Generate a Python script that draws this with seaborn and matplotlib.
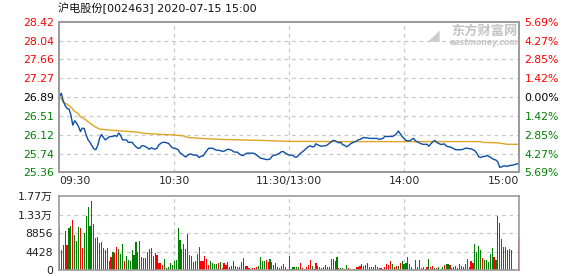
import matplotlib
matplotlib.use("Agg")
import matplotlib.pyplot as plt
import seaborn as sns

sns.set_theme(style="white")
plt.rcParams['font.family'] = ['DejaVu Sans', 'Noto Sans CJK SC']

# ---------------- data ----------------
title = "沪电股份[002463] 2020-07-15 15:00"
prev_close = 26.89
price_ticks = [25.36, 25.74, 26.12, 26.51, 26.89, 27.27, 27.66, 28.04, 28.42]
price_tick_labels = ["25.36", "25.74", "26.12", "26.51", "26.89", "27.27", "27.66", "28.04", "28.42"]
pct_tick_labels = ["5.69%", "4.27%", "2.85%", "1.42%", "0.00%", "1.42%", "2.85%", "4.27%", "5.69%"]
time_ticks = [0, 60, 120, 180, 240]
time_labels = ["09:30", "10:30", "11:30/13:00", "14:00", "15:00"]
vol_ticks = [0, 4428, 8856, 13284, 17712]
vol_tick_labels = ["0", "4428", "8856", "1.33万", "1.77万"]

price_values = [
    26.90, 26.97, 26.81, 26.72, 26.66, 26.65, 26.53, 26.32, 26.41, 26.36,
    26.29, 26.19, 26.26, 26.25, 26.12, 26.02, 25.97, 25.90, 25.84, 25.82,
    25.90, 26.05, 26.13, 26.07, 26.02, 26.05, 26.08, 26.09, 26.09, 26.11,
    26.09, 26.16, 26.11, 26.02, 26.02, 26.02, 25.97, 25.97, 25.97, 25.92,
    25.88, 25.85, 25.85, 25.90, 25.90, 25.88, 25.86, 25.83, 25.86, 25.84,
    25.83, 25.85, 25.92, 25.95, 25.97, 25.97, 25.96, 25.95, 25.90, 25.86,
    25.85, 25.84, 25.82, 25.76, 25.73, 25.70, 25.67, 25.71, 25.73, 25.73,
    25.71, 25.71, 25.70, 25.66, 25.69, 25.69, 25.75, 25.80, 25.85, 25.85,
    25.85, 25.83, 25.81, 25.81, 25.80, 25.79, 25.79, 25.81, 25.83, 25.82,
    25.81, 25.78, 25.77, 25.77, 25.73, 25.71, 25.70, 25.73, 25.75, 25.75,
    25.75, 25.75, 25.74, 25.71, 25.68, 25.65, 25.64, 25.63, 25.62, 25.62,
    25.63, 25.68, 25.71, 25.71, 25.73, 25.75, 25.78, 25.78, 25.75, 25.73,
    25.71, 25.71, 25.70, 25.67, 25.67, 25.71, 25.75, 25.78, 25.81, 25.85,
    25.88, 25.90, 25.88, 25.88, 25.94, 25.92, 25.90, 25.89, 25.90, 25.90,
    25.92, 25.95, 25.98, 26.01, 26.00, 25.98, 25.96, 25.97, 25.92, 25.91,
    25.88, 25.90, 25.94, 25.96, 25.98, 25.99, 26.02, 26.03, 26.05, 26.07,
    26.06, 26.06, 26.05, 26.05, 26.05, 26.05, 26.05, 26.03, 26.04, 26.05,
    26.09, 26.09, 26.09, 26.09, 26.09, 26.11, 26.14, 26.20, 26.15, 26.09,
    26.05, 26.01, 26.00, 26.00, 26.03, 26.05, 26.00, 25.98, 25.96, 25.94,
    25.93, 25.93, 25.93, 25.89, 25.94, 25.98, 26.01, 25.97, 25.95, 25.93,
    25.93, 25.94, 25.90, 25.88, 25.88, 25.86, 25.84, 25.82, 25.82, 25.82,
    25.82, 25.83, 25.85, 25.85, 25.84, 25.84, 25.82, 25.80, 25.75, 25.68,
    25.66, 25.68, 25.68, 25.70, 25.69, 25.67, 25.64, 25.62, 25.61, 25.57,
    25.46, 25.47, 25.49, 25.49, 25.48, 25.50, 25.50, 25.51, 25.52, 25.53, 25.55,
]
price_minutes = list(range(len(price_values)))

avg_minutes = [0, 1, 2, 3, 5, 6, 8, 10, 11, 13, 15, 17, 19, 21, 26, 33, 40, 45, 54, 60,
               65, 67, 74, 84, 105, 120, 150, 220, 221, 229, 234, 240]
avg_values = [26.90, 26.85, 26.80, 26.77, 26.72, 26.69, 26.60, 26.55, 26.49, 26.45,
              26.39, 26.33, 26.28, 26.24, 26.22, 26.20, 26.18, 26.15, 26.13, 26.12,
              26.10, 26.07, 26.05, 26.03, 26.01, 25.99, 25.985, 25.985, 25.97, 25.96,
              25.93, 25.93]

vol_values = [
    10044, 4860, 6075, 9477, 6075, 10044, 10692, 11907, 8505, 7047,
    10449, 10206, 5346, 8829, 12879, 15066, 10692, 16524, 10935, 7776,
    8019, 6561, 6804, 5346, 4860, 5346, 2187, 3159, 4374, 4131,
    5589, 5103, 3888, 6318, 2187, 3402, 2430, 2187, 4860, 3645,
    6804, 4374, 7047, 3159, 2916, 2916, 4374, 5103, 5346, 3402,
    4131, 3645, 1701, 1701, 1215, 2673, 486, 729, 1701, 1215,
    2187, 2430, 10206, 7290, 5103, 6318, 5103, 8748, 3645, 3402,
    1944, 2187, 3888, 5589, 2187, 2187, 3402, 2673, 1215, 2187,
    1701, 1458, 1458, 1701, 1944, 486, 1701, 1215, 1944, 729,
    972, 2187, 972, 729, 729, 1944, 2916, 972, 972, 486,
    243, 486, 486, 729, 972, 3159, 2187, 2187, 2430, 1944,
    2673, 1944, 1215, 1701, 729, 486, 972, 1458, 729, 243, 3402,
    243, 729, 729, 729, 729, 1701, 486, 243, 729, 1215,
    2430, 972, 243, 1701, 972, 729, 486, 729, 1215, 729,
    729, 2673, 2673, 2187, 3159, 486, 486, 486, 243, 1215,
    486, 243, 243, 243, 729, 729, 972, 1458, 972, 1215,
    1701, 729, 729, 729, 1215, 729, 486, 486, 243, 729,
    1458, 1215, 2187, 1458, 729, 972, 972, 1701, 2187, 1458,
    1701, 3159, 1458, 729, 243, 2430, 729, 2430, 486, 729,
    243, 729, 2673, 729, 972, 486, 486, 729, 243, 729,
    1215, 1458, 1458, 1215, 486, 729, 972, 486, 1458, 972,
    729, 1458, 2673, 729, 2187, 1701, 6318, 4374, 5832, 4860,
    2916, 2430, 2430, 1944, 3888, 5346, 3159, 2430, 12879, 11178,
    7533, 5589, 5589, 4860, 5103, 4860, 243, 0, 0, 7776,
]
vol_dir = list(
    "rgggrggrgg" "grrggggggr" "rrrggrrrgr" "rgggrggggg" "ggrrgggrgr" "rrrrrggggg"
    "gggggggrrg" "gggrrrrrrg" "gggrgrrrrg" "ggrggrgrrr" "rrrrggggrr" "grrgrrggrrg"
    "rggggrrgrr" "rgrrgggrrg" "rrrggrgggg" "rrrgrrrrrg" "rggrrggrgr" "rrrgrrgrgg"
    "gggrrggggr" "rrgrrgrggg" "rggrggrrrr" "grrgrrgggg" "rgggggrggg" "rrrgrrgrrr"
)
vol_minutes = list(range(len(vol_values)))

# ---------------- styles ----------------
RED = "#ff0000"
GREEN = "#008000"
BLACK = "#000000"
GRID = "#c8c8c8"
SPINE = "#9a9a9a"
FS = 7.8

W, H = 578, 276
fig = plt.figure(figsize=(W / 100, H / 100), dpi=100)
fig.patch.set_facecolor("white")

def frac(x0, y0, x1, y1):
    return [x0 / W, 1 - y1 / H, (x1 - x0) / W, (y1 - y0) / H]

ax1 = fig.add_axes(frac(58.7, 22, 519, 172.3))
ax2 = fig.add_axes(frac(58.7, 196.3, 519, 270))

XMIN, XMAX = -0.35, 240.05

# price panel
sns.lineplot(x=avg_minutes, y=avg_values, ax=ax1, color="#e0a526", linewidth=1.0)
sns.lineplot(x=price_minutes, y=price_values, ax=ax1, color="#0d4ea6", linewidth=1.0)
ax1.set_xlim(XMIN, XMAX)
ax1.set_ylim(price_ticks[0], price_ticks[-1])
ax1.set_yticks(price_ticks)
ax1.set_yticklabels(price_tick_labels, fontsize=FS)

def lvl_color(v):
    if abs(v - prev_close) < 1e-6:
        return BLACK
    return RED if v > prev_close else GREEN

for lbl, v in zip(ax1.get_yticklabels(), price_ticks):
    lbl.set_color(lvl_color(v))
ax1.set_xticks(time_ticks)
ax1.set_xticklabels(time_labels, fontsize=FS)
xl = ax1.get_xticklabels()
xl[0].set_horizontalalignment("left")
xl[-1].set_horizontalalignment("right")
ax1.tick_params(axis="both", length=0)
ax1.tick_params(axis="y", pad=3)
ax1.tick_params(axis="x", pad=3)
ax1.set_xlabel("")
ax1.set_ylabel("")
for y in price_ticks[1:-1]:
    ax1.axhline(y, color=GRID, linewidth=0.9, linestyle=(0, (3, 3)), zorder=0)
for x in time_ticks[1:-1]:
    ax1.axvline(x, color=GRID, linewidth=0.9, linestyle=(0, (3, 3)), zorder=0)

ax1r = ax1.twinx()
ax1r.set_ylim(price_ticks[0], price_ticks[-1])
ax1r.set_yticks(price_ticks)
ax1r.set_yticklabels(pct_tick_labels, fontsize=FS)
for lbl, v in zip(ax1r.get_yticklabels(), price_ticks):
    lbl.set_color(lvl_color(v))
ax1r.tick_params(axis="y", length=0, pad=4)
ax1r.grid(False)

for a in (ax1, ax1r, ax2):
    for s in a.spines.values():
        s.set_color(SPINE)
        s.set_linewidth(1.2)

# volume panel
bar_colors = [RED if d == "r" else GREEN for d in vol_dir]
ax2.bar(vol_minutes, vol_values, width=0.6, color=bar_colors, linewidth=0,
        antialiased=False, zorder=2)
ax2.set_xlim(XMIN, XMAX)
ax2.set_ylim(vol_ticks[0], vol_ticks[-1])
ax2.set_yticks(vol_ticks)
ax2.set_yticklabels(vol_tick_labels, fontsize=FS, color="#202020")
ax2.set_xticks([])
ax2.tick_params(axis="both", length=0)
ax2.tick_params(axis="y", pad=4)
ax2.set_xlabel("")
ax2.set_ylabel("")
for y in vol_ticks[1:-1]:
    ax2.axhline(y, color=GRID, linewidth=0.9, linestyle=(0, (3, 3)), zorder=0)
for x in time_ticks[1:-1]:
    ax2.axvline(x, color=GRID, linewidth=0.9, linestyle=(0, (3, 3)), zorder=0)

# title
fig.text(58.5 / W, 1 - 8.5 / H, title, fontsize=8, color="#111111",
         ha="left", va="center", family=['DejaVu Sans', 'Noto Sans CJK SC'])

# watermark
fig.text(518 / W, 1 - 31 / H, "东方财富网", fontsize=9.5, color="#c4c4c4", fontweight="bold",
         ha="right", va="center", family=['Noto Sans CJK SC', 'DejaVu Sans'])
fig.text(518 / W, 1 - 42.5 / H, "eastmoney.com", fontsize=5.6, color="#c4c4c4", fontweight="bold",
         style="italic", ha="right", va="center")
fig.text(434 / W, 1 - 36 / H, "◢", fontsize=11, color="#cccccc", ha="center", va="center")

fig.savefig("out.png", dpi=100)
